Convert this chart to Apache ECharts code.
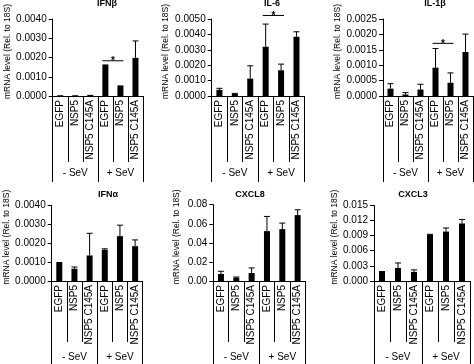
<!DOCTYPE html>
<html>
<head>
<meta charset="utf-8">
<script src="https://cdn.jsdelivr.net/npm/echarts@6/dist/echarts.min.js"></script>
<style>
html,body{margin:0;padding:0;background:#fff;}
#c{width:474px;height:364px;}
</style>
</head>
<body>
<div id="c"></div>
<script>
// ---- data ----
const categories = ['EGFP', 'NSP5', 'NSP5 C145A', 'EGFP', 'NSP5', 'NSP5 C145A'];
const groups = ['- SeV', '+ SeV'];
const titles = ['IFNβ', 'IL-6', 'IL-1β', 'IFNα', 'CXCL8', 'CXCL3'];
const yAxisName = 'mRNA level (Rel. to 18S)';

const ifnbMean = [0.00004, 0.00004, 0.00006, 0.00164, 0.00055, 0.00198];
const ifnbErrTop = [null, null, null, null, null, 0.00286];
const il6Mean = [0.0004, 0.00015, 0.00113, 0.0032, 0.00167, 0.00385];
const il6ErrTop = [0.0005, 0.00017, 0.00196, 0.00467, 0.00207, 0.00417];
const il1bMean = [0.00024, 0.00005, 0.00021, 0.00092, 0.00043, 0.00143];
const il1bErrTop = [0.0004, 0.00011, 0.00038, 0.00154, 0.00075, 0.00201];
const ifnaMean = [0.00095, 0.00065, 0.00135, 0.00165, 0.00237, 0.00184];
const ifnaErrTop = [0.00098, 0.00074, 0.00252, 0.0017, 0.00295, 0.00217];
const cxcl8Mean = [0.0074, 0.0035, 0.0084, 0.0523, 0.0544, 0.0691];
const cxcl8ErrTop = [0.0102, 0.0042, 0.0137, 0.0677, 0.0607, 0.0747];
const cxcl3Mean = [0.00198, 0.0026, 0.0018, 0.0092, 0.0098, 0.0114];
const cxcl3ErrTop = [null, 0.00357, 0.0022, 0.00925, 0.0105, 0.0122];

// significance brackets: [fromCategoryIndex, toCategoryIndex, yValue]
const ifnbSig = [[3, 4, 0.00183]];
const il6Sig = [[3, 4, 0.00523]];
const il1bSig = [[3, 4, 0.00171]];

// y-axis scales
const yMax = [0.004, 0.005, 0.0025, 0.004, 0.08, 0.015];
const yStep = [0.001, 0.001, 0.0005, 0.001, 0.02, 0.003];
const yDecimals = [4, 4, 4, 4, 2, 3];

const means = [ifnbMean, il6Mean, il1bMean, ifnaMean, cxcl8Mean, cxcl3Mean];
const errTops = [ifnbErrTop, il6ErrTop, il1bErrTop, ifnaErrTop, cxcl8ErrTop, cxcl3ErrTop];
const sigs = [ifnbSig, il6Sig, il1bSig, [], [], []];

// ---- layout ----
const FONT = '"Liberation Sans", Arial, sans-serif';
const layout = [
  {left: 52.7, top: 19, w: 90.3, h: 77, inner: 66, grp: 86, gm: 72, gap: 40, tx: 107, ty: -1},
  {left: 211.7, top: 19, w: 92.5, h: 77, inner: 66, grp: 86, gm: 72, gap: 42, tx: 272, ty: -1},
  {left: 383, top: 19, w: 90, h: 77, inner: 66, grp: 86, gm: 72, gap: 41, tx: 435, ty: -1},
  {left: 51.7, top: 205.3, w: 91, h: 75.7, inner: 61, grp: 84, gm: 71, gap: 41, tx: 108, ty: 190},
  {left: 213.3, top: 204.7, w: 92, h: 76.3, inner: 61, grp: 84, gm: 71, gap: 32, tx: 250, ty: 190},
  {left: 374, top: 205.3, w: 96, h: 75.7, inner: 61, grp: 84, gm: 71, gap: 34, tx: 413, ty: 190}
];

const grid = [], xAxis = [], yAxis = [], series = [], title = [];

layout.forEach((p, i) => {
  grid.push({left: p.left, top: p.top, width: p.w, height: p.h});
  title.push({
    text: titles[i], left: p.tx, top: p.ty, textAlign: 'center', padding: 0,
    textStyle: {fontSize: 9, fontWeight: 'bold', color: '#000', fontFamily: FONT}
  });
  xAxis.push({
    type: 'category', gridIndex: i, position: 'bottom', data: categories,
    axisLine: {show: true, lineStyle: {color: '#000', width: 1}},
    axisTick: {show: true, interval: 0, length: p.inner, alignWithLabel: false, lineStyle: {color: '#000', width: 1}},
    axisLabel: {rotate: 90, interval: 0, margin: 4, fontSize: 10, color: '#000', fontFamily: FONT}
  });
  xAxis.push({
    type: 'category', gridIndex: i, position: 'bottom', data: groups,
    axisLine: {show: false},
    axisTick: {show: true, interval: 0, length: p.grp, lineStyle: {color: '#000', width: 1}},
    axisLabel: {interval: 0, margin: p.gm, fontSize: 10, color: '#000', fontFamily: FONT}
  });
  yAxis.push({
    type: 'value', gridIndex: i, position: 'left', min: 0, max: yMax[i], interval: yStep[i],
    name: yAxisName, nameLocation: 'middle', nameGap: p.gap,
    nameTextStyle: {fontSize: 8.5, color: '#000', fontFamily: FONT, padding: [0, 0, 0, 12]},
    axisLine: {show: true, lineStyle: {color: '#000', width: 1}},
    axisTick: {show: true, length: 4, lineStyle: {color: '#000'}},
    splitLine: {show: false},
    axisLabel: {formatter: v => v.toFixed(yDecimals[i]), fontSize: 10, color: '#000', margin: 6, fontFamily: FONT}
  });
  series.push({
    type: 'bar', xAxisIndex: 2 * i, yAxisIndex: i, data: means[i],
    barWidth: 6, itemStyle: {color: '#000'}, silent: true, animation: false
  });
  const errData = [];
  errTops[i].forEach((t, k) => { if (t != null) errData.push([k, means[i][k], t]); });
  series.push({
    type: 'custom', xAxisIndex: 2 * i, yAxisIndex: i, data: errData, clip: false, silent: true, animation: false,
    renderItem: (params, api) => {
      const x = api.value(0);
      const p0 = api.coord([x, api.value(1)]);
      const p1 = api.coord([x, api.value(2)]);
      const cw = 3;
      return {type: 'group', children: [
        {type: 'line', shape: {x1: p0[0], y1: p0[1], x2: p1[0], y2: p1[1]}, style: {stroke: '#000', lineWidth: 1}},
        {type: 'line', shape: {x1: p1[0] - cw, y1: p1[1], x2: p1[0] + cw, y2: p1[1]}, style: {stroke: '#000', lineWidth: 1}}
      ]};
    }
  });
  if (sigs[i].length) {
    series.push({
      type: 'custom', xAxisIndex: 2 * i, yAxisIndex: i, data: sigs[i], clip: false, silent: true, animation: false,
      renderItem: (params, api) => {
        const a = api.coord([api.value(0), api.value(2)]);
        const b = api.coord([api.value(1), api.value(2)]);
        return {type: 'group', children: [
          {type: 'line', shape: {x1: a[0] - 3, y1: a[1], x2: b[0] + 3, y2: b[1]}, style: {stroke: '#000', lineWidth: 1}},
          {type: 'text', x: (a[0] + b[0]) / 2, y: a[1] + 0.5,
           style: {text: '*', fontSize: 10, fontWeight: 'bold', fill: '#000', align: 'center', verticalAlign: 'middle', fontFamily: FONT}}
        ]};
      }
    });
  }
});

const chart = echarts.init(document.getElementById('c'), null, {renderer: 'canvas'});
chart.setOption({animation: false, backgroundColor: '#fff', title, grid, xAxis, yAxis, series});
</script>
</body>
</html>
